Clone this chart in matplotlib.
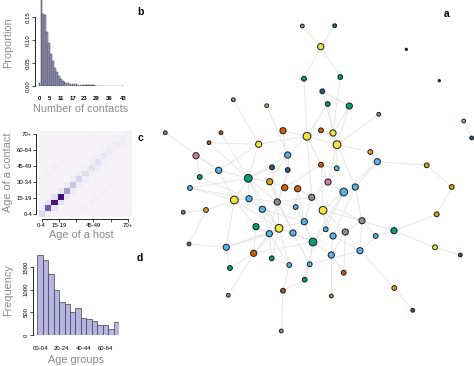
import numpy as np
import matplotlib
matplotlib.use("Agg")
import matplotlib.pyplot as plt

plt.rcParams['font.family'] = ['Liberation Sans', 'DejaVu Sans']

# ---- panel b: number of contacts (proportion) ----
contacts_n = list(range(44))
contacts_prop = [0.006, 0.21, 0.158, 0.155, 0.117, 0.093, 0.07, 0.054, 0.04, 0.03,
                 0.022, 0.016, 0.012, 0.009, 0.007, 0.006, 0.005, 0.005, 0.004, 0.004,
                 0.003, 0.003, 0.0025, 0.002, 0.002, 0.002, 0.0015, 0.0015, 0.0015, 0.001,
                 0.001, 0.001, 0.001, 0.001, 0.0008, 0.0008, 0.0008, 0.0006, 0.0006, 0.0006,
                 0.0005, 0.0005, 0.0005, 0.0005]
contacts_ticks = [0, 5, 11, 17, 23, 29, 36, 43]

# ---- panel c: contact matrix (host x contact age), by band ----
age_ticks = ['0-4', '15-19', '30-34', '45-49', '60-64', '70+']
host_tick_labels = ['0-4', '15-19', '', '45-49', '', '70+']
mix_diag = [0.25, 0.72, 0.93, 0.96, 0.48, 0.33, 0.26, 0.22, 0.2, 0.2, 0.17, 0.15, 0.14, 0.12, 0.12]
mix_off1 = [0.13, 0.18, 0.2, 0.16, 0.14, 0.13, 0.12, 0.11, 0.11, 0.1, 0.1, 0.09, 0.09, 0.08]
mix_off6 = [0.08, 0.09, 0.09, 0.09, 0.09, 0.08, 0.08, 0.08, 0.08]
mix_background = 0.065

# ---- panel d: age group frequencies ----
age_groups = ['00-04', '05-09', '10-14', '15-19', '20-24', '25-29', '30-34', '35-39',
              '40-44', '45-49', '50-54', '55-59', '60-64', '65-69', '70+']
age_freq = [1754, 1657, 1343, 985, 724, 687, 507, 604, 373, 358, 313, 216, 216, 142, 283]

# ---- panel a: contact network (node positions, in pixels) ----
node_x = [302.3, 334.7, 320.7, 406.3, 439.3, 304.0, 340.3, 322.3, 327.7, 349.3,
          233.3, 266.7, 378.7, 463.7, 471.7, 165.3, 221.0, 283.0, 307.0, 321.0,
          333.0, 337.0, 209.0, 258.7, 196.0, 287.7, 370.3, 377.3, 426.7, 321.0,
          336.7, 272.0, 287.7, 218.7, 199.7, 248.3, 269.7, 328.0, 190.0, 284.7,
          297.7, 355.3, 343.7, 451.7, 234.3, 249.0, 277.3, 311.7, 183.3, 206.0,
          262.3, 295.7, 323.0, 436.7, 362.0, 304.3, 256.0, 279.0, 325.7, 345.3,
          394.0, 269.3, 293.0, 333.0, 375.7, 313.0, 189.0, 226.3, 435.0, 460.3,
          253.7, 271.7, 331.3, 360.0, 289.3, 309.7, 230.0, 343.7, 304.7, 283.0,
          228.3, 331.3, 394.3, 412.7, 281.3]
node_y = [26.0, 25.7, 46.7, 49.3, 80.7, 78.7, 77.0, 91.3, 104.0, 106.0,
          99.7, 105.7, 114.3, 121.0, 138.0, 132.7, 132.7, 130.7, 136.3, 130.3,
          133.0, 144.7, 142.7, 144.3, 155.7, 155.0, 152.0, 161.7, 165.3, 164.7,
          168.3, 167.3, 170.0, 170.3, 177.0, 178.3, 181.7, 182.0, 188.0, 187.7,
          188.7, 187.0, 192.0, 187.0, 200.0, 198.7, 202.0, 197.3, 212.3, 210.0,
          209.3, 207.0, 210.3, 214.3, 220.7, 221.7, 226.7, 228.3, 229.3, 232.0,
          230.7, 233.7, 233.0, 236.0, 236.0, 242.0, 244.0, 247.3, 247.3, 255.0,
          253.3, 258.3, 255.0, 250.7, 265.0, 264.3, 268.0, 272.7, 279.7, 290.7,
          295.3, 296.0, 288.0, 310.3, 331.0]
node_group = ['BR', 'GRd', 'YE', 'BK', 'BK', 'GR', 'GR', 'DB', 'GR', 'GR',
              'BR', 'OL', 'BR', 'OL', 'DB', 'GY', 'OR2', 'OR', 'YE', 'OR',
              'YE', 'YE', 'OR2', 'YE', 'MV', 'LB', 'OC', 'LB', 'OC', 'OR',
              'LB', 'DB', 'DB', 'LB', 'GR', 'GR', 'OC', 'MV', 'LB', 'OR',
              'OR', 'LB', 'LB', 'OC', 'YE', 'LB', 'GY', 'GY', 'MVd', 'OC',
              'LB', 'LB', 'YE', 'OC', 'GY', 'LB', 'GR', 'YE', 'LB', 'GY',
              'GR', 'LB', 'LB', 'LB', 'LB', 'GR', 'OR2', 'LB', 'YE', 'GRd',
              'OR', 'GR', 'LB', 'LB', 'LB', 'LB', 'GR', 'OR', 'GR', 'OR2',
              'BR', 'BR', 'OC', 'GRd', 'BR']
node_level = [1, 1, 3, 0, 0, 2, 2, 2, 2, 3,
              1, 1, 1, 1, 1, 1, 1, 3, 4, 2,
              3, 4, 1, 3, 3, 3, 2, 3, 2, 2,
              2, 2, 2, 3, 2, 4, 3, 3, 2, 3,
              3, 3, 4, 2, 4, 3, 3, 3, 1, 2,
              3, 2, 4, 2, 3, 3, 3, 4, 2, 3,
              3, 3, 3, 3, 2, 4, 1, 3, 2, 1,
              3, 2, 3, 3, 2, 2, 2, 2, 2, 2,
              1, 1, 2, 1, 1]
edges = [(1, 3), (2, 3), (3, 6), (3, 7), (6, 19), (7, 21), (8, 10), (8, 22), (9, 21), (9, 19),
         (10, 22), (10, 21), (11, 24), (12, 26), (13, 22), (14, 15), (16, 34), (17, 36), (23, 36),
         (25, 35), (25, 34), (24, 19), (24, 36), (24, 34), (18, 19), (18, 33), (19, 21), (19, 22),
         (19, 20), (19, 26), (19, 30), (19, 48), (20, 21), (21, 22), (22, 27), (22, 31), (22, 38),
         (22, 42), (27, 28), (28, 29), (29, 44), (44, 54), (54, 61), (61, 69), (69, 70), (61, 65),
         (61, 55), (28, 43), (28, 42), (26, 33), (26, 37), (26, 36), (30, 31), (30, 40), (30, 38),
         (30, 53), (32, 36), (32, 47), (33, 40), (33, 47), (34, 36), (34, 45), (35, 46), (36, 37),
         (36, 46), (36, 45), (36, 47), (36, 51), (36, 58), (37, 40), (37, 47), (37, 63), (38, 43),
         (38, 48), (39, 45), (39, 46), (39, 36), (40, 41), (40, 47), (41, 48), (41, 52), (41, 56),
         (42, 43), (42, 55), (42, 64), (43, 53), (43, 59), (43, 66), (45, 46), (45, 50), (45, 58),
         (45, 57), (45, 68), (46, 47), (46, 51), (47, 48), (47, 52), (47, 62), (47, 63), (47, 58),
         (48, 53), (48, 56), (48, 55), (49, 50), (50, 67), (67, 68), (68, 77), (68, 62), (68, 58),
         (51, 58), (51, 62), (51, 56), (52, 56), (52, 66), (53, 59), (53, 60), (53, 64), (53, 55),
         (55, 60), (55, 65), (55, 74), (56, 58), (56, 66), (56, 63), (57, 62), (57, 71), (58, 62),
         (58, 63), (58, 71), (58, 72), (58, 66), (58, 75), (59, 64), (59, 66), (60, 73), (60, 78),
         (60, 64), (65, 74), (62, 71), (62, 72), (62, 75), (63, 66), (63, 76), (64, 73), (64, 74),
         (66, 73), (66, 76), (66, 71), (66, 79), (71, 81), (71, 77), (72, 75), (73, 78), (73, 82),
         (74, 83), (83, 84), (74, 76), (75, 80), (76, 79), (80, 85), (79, 80), (35, 34), (23, 24)]

group_colors = {'LB': '#56B4E9', 'YE': '#F0E442', 'GR': '#009E73', 'GRd': '#1f6b5a',
                'OR': '#D55E00', 'OR2': '#a5622e', 'OC': '#d9a11e', 'OL': '#c8b43c',
                'DB': '#1f5f85', 'MV': '#CC79A7', 'MVd': '#9a7a8c', 'GY': '#8c8c8c',
                'BR': '#a08a76', 'BK': '#222222'}

W, H = 474, 366


def box(x0, y0, x1, y1):
    # pixel box (top-left origin) -> figure fraction rect
    return [x0 / W, 1 - y1 / H, (x1 - x0) / W, (y1 - y0) / H]


fig = plt.figure(figsize=(W / 100, H / 100), dpi=100)
lab_col = '#8a8a8a'
tick_fs = 4.3
lab_fs = 7.8

# ---------------- b ----------------
axb = fig.add_axes(box(37, 0, 126, 86))
axb.bar(contacts_n, contacts_prop, width=0.8, color='#9d9cc4', edgecolor='#3a3a48', linewidth=0.35)
axb.set_xlim(-1.2, 44.4)
axb.set_ylim(0, 0.1878)
for s in ['top', 'right', 'bottom']:
    axb.spines[s].set_visible(False)
axb.spines['left'].set_position(('outward', 1.5))
axb.spines['left'].set_bounds(0, 0.15)
axb.spines['left'].set_linewidth(0.6)
axb.set_yticks([0, 0.05, 0.10, 0.15])
axb.set_yticklabels(['0.00', '0.05', '0.10', '0.15'], rotation=90, va='center', fontsize=tick_fs)
axb.set_xticks(contacts_ticks)
axb.set_xticklabels([str(t) for t in contacts_ticks], fontsize=tick_fs, fontweight='bold')
axb.tick_params(axis='x', length=0, pad=7)
axb.tick_params(axis='y', length=2, width=0.5, pad=1)
fig.text(8 / W, 1 - 43 / H, 'Proportion', rotation=90, ha='center', va='center', fontsize=lab_fs, color=lab_col)
fig.text(81 / W, 1 - 109 / H, 'Number of contacts', ha='center', va='center', fontsize=lab_fs, color=lab_col)
fig.text(140 / W, 1 - 12 / H, 'b', ha='center', va='center', fontsize=7.5, fontweight='bold')

# ---------------- c ----------------
n = len(mix_diag)
mix = np.full((n, n), mix_background)
for i in range(n):
    mix[i, i] = mix_diag[i]
for i in range(n - 1):
    mix[i, i + 1] = mix[i + 1, i] = mix_off1[i]
for i in range(n - 6):
    mix[i, i + 6] = mix[i + 6, i] = mix_off6[i]

axc = fig.add_axes(box(38.5, 131, 131, 217))
axc.imshow(mix, origin='lower', cmap='Purples', vmin=0, vmax=1, aspect='auto',
           extent=(-0.5, n - 0.5, -0.5, n - 0.5), interpolation='nearest')
for s in ['top', 'right']:
    axc.spines[s].set_visible(False)
tick_pos = [0, 2.8, 5.6, 8.4, 11.2, 14]
for s in ['left', 'bottom']:
    axc.spines[s].set_position(('outward', 1.5))
    axc.spines[s].set_bounds(0, 14)
    axc.spines[s].set_linewidth(0.6)
axc.set_xticks(tick_pos)
axc.set_xticklabels(host_tick_labels, fontsize=tick_fs)
axc.set_yticks(tick_pos)
axc.set_yticklabels(age_ticks, fontsize=tick_fs)
axc.tick_params(length=2, width=0.5, pad=1)
fig.text(8 / W, 1 - 172 / H, 'Age of a contact', rotation=90, ha='center', va='center', fontsize=lab_fs, color=lab_col)
fig.text(81 / W, 1 - 235 / H, 'Age of a host', ha='center', va='center', fontsize=lab_fs, color=lab_col)
fig.text(140 / W, 1 - 138 / H, 'c', ha='center', va='center', fontsize=7.5, fontweight='bold')

# ---------------- d ----------------
axd = fig.add_axes(box(37.3, 255, 119, 335))
axd.bar(range(len(age_freq)), age_freq, width=1.0, color='#b6b5e2', edgecolor='#404050', linewidth=0.5)
axd.set_xlim(-0.5, len(age_freq) - 0.5)
axd.set_ylim(0, 1760)
for s in ['top', 'right', 'bottom']:
    axd.spines[s].set_visible(False)
axd.spines['left'].set_position(('outward', 3))
axd.spines['left'].set_bounds(0, 1500)
axd.spines['left'].set_linewidth(0.6)
axd.set_yticks([0, 500, 1000, 1500])
axd.set_yticklabels(['0', '500', '1000', '1500'], rotation=90, va='center', fontsize=tick_fs)
axd.set_xticks([0, 4, 8, 12])
axd.set_xticklabels([age_groups[i] for i in [0, 4, 8, 12]], fontsize=tick_fs)
axd.tick_params(axis='x', length=0, pad=8)
axd.tick_params(axis='y', length=2, width=0.5, pad=1)
fig.text(8 / W, 1 - 290 / H, 'Frequency', rotation=90, ha='center', va='center', fontsize=lab_fs, color=lab_col)
fig.text(76 / W, 1 - 360 / H, 'Age groups', ha='center', va='center', fontsize=lab_fs, color=lab_col)
fig.text(140 / W, 1 - 258 / H, 'd', ha='center', va='center', fontsize=7.5, fontweight='bold')

# ---------------- a ----------------
axa = fig.add_axes(box(160, 0, 474, 366))
axa.set_xlim(160, 474)
axa.set_ylim(366, 0)
axa.axis('off')
for a, b in edges:
    axa.plot([node_x[a - 1], node_x[b - 1]], [node_y[a - 1], node_y[b - 1]],
             color='#e6e6e6', lw=0.7, zorder=1, solid_capstyle='round')
diam_px = {0: 2.3, 1: 3.8, 2: 4.8, 3: 6.2, 4: 7.8}
sizes = [(diam_px[l] * 0.72) ** 2 for l in node_level]
colors = [group_colors[g] for g in node_group]
axa.scatter(node_x, node_y, s=sizes, c=colors, edgecolors='#1a1a1a', linewidths=0.7, zorder=2)
fig.text(447 / W, 1 - 14 / H, 'a', ha='center', va='center', fontsize=7.5, fontweight='bold')

fig.savefig('out.png', dpi=100)
